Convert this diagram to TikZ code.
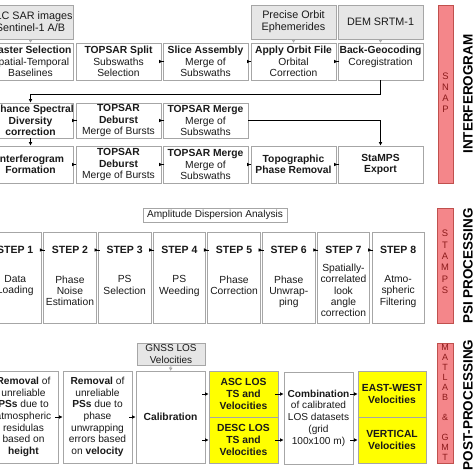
\documentclass[tikz,border=0pt]{standalone}
\usepackage{fontspec}
\setmainfont{Liberation Sans}
\usetikzlibrary{arrows.meta,calc}
\definecolor{bordergray}{HTML}{A6A6A6}
\definecolor{inputgray}{HTML}{E6E6E6}
\definecolor{barfill}{HTML}{F4868A}
\definecolor{barline}{HTML}{C0504D}
\definecolor{barletter}{HTML}{8B1A1A}
\definecolor{ink}{HTML}{1A1A1A}
\definecolor{hl}{HTML}{FFFF00}
\begin{document}
\begin{tikzpicture}[x=1pt,y=-1pt,
  every node/.style={text=ink},
  fbox/.style={draw=bordergray,line width=0.8pt,fill=white,inner sep=0pt,align=center,font=\fontsize{10.3}{11.6}\selectfont},
  ibox/.style={fbox,fill=inputgray,font=\fontsize{10.8}{12.2}\selectfont},
  ybox/.style={fbox,fill=hl},
  stepbox/.style={fbox,minimum width=52.5pt,minimum height=91pt},
  steptitle/.style={inner sep=0pt,font=\bfseries\fontsize{10.5}{11.2}\selectfont},
  stepdesc/.style={inner sep=0pt,anchor=north,align=center,font=\fontsize{10.3}{11.2}\selectfont},
  bar/.style={draw=barline,line width=0.8pt,fill=barfill,inner sep=0pt},
  barlet/.style={text=barletter,align=center,inner sep=0pt,font=\fontsize{9.4}{11}\selectfont},
  side/.style={rotate=90,inner sep=0pt,font=\bfseries\fontsize{13.5}{14}\selectfont,text=black},
  arr/.style={draw=black,line width=1pt,-{Latex[length=3.5pt,width=3.8pt]}},
  sarr/.style={arr,shorten <=-3pt},
  hol/.style={draw=bordergray,line width=0.7pt,-{Triangle[open,length=3pt,width=3.5pt]}},
]
\useasboundingbox (0,0) rectangle (474,474);
\clip (0,0) rectangle (474,474);

% ---------- INTERFEROGRAM ----------
\node[ibox,minimum width=85pt,minimum height=34pt] (slc) at (30.5,22) {SLC SAR images\\Sentinel-1 A/B};
\node[ibox,minimum width=85pt,minimum height=34pt] (orbit) at (293.5,22) {Precise Orbit\\Ephemerides};
\node[ibox,minimum width=85pt,minimum height=34pt] (dem) at (380.5,22) {DEM SRTM-1};

\node[fbox,minimum width=85pt,minimum height=37pt] (master) at (30.5,61.5) {\textbf{Master Selection}\\Spatial-Temporal\\Baselines};
\node[fbox,minimum width=85pt,minimum height=37pt] (split) at (118.5,61.5) {\textbf{TOPSAR Split}\\Subswaths\\Selection};
\node[fbox,minimum width=85pt,minimum height=37pt] (slice) at (205.5,61.5) {\textbf{Slice Assembly}\\Merge of\\Subswaths};
\node[fbox,minimum width=85pt,minimum height=37pt] (apply) at (293.5,61.5) {\textbf{Apply Orbit File}\\Orbital\\Correction};
\node[fbox,minimum width=85pt,minimum height=37pt] (geo) at (380.5,61.5) {\textbf{Back-Geocoding}\\Coregistration\\~};

\node[fbox,minimum width=85pt,minimum height=35pt] (esd) at (30.5,120.5) {\textbf{Enhance Spectral}\\\textbf{Diversity}\\\textbf{correction}};
\node[fbox,minimum width=85pt,minimum height=35pt] (deb1) at (118.5,120.5) {\textbf{TOPSAR}\\\textbf{Deburst}\\Merge of Bursts};
\node[fbox,minimum width=85pt,minimum height=35pt] (mrg1) at (205.5,120.5) {\textbf{TOPSAR Merge}\\Merge of\\Subswaths};

\node[fbox,minimum width=85pt,minimum height=37pt] (ifg) at (30.5,164.5) {\textbf{Interferogram}\\\textbf{Formation}};
\node[fbox,minimum width=85pt,minimum height=37pt] (deb2) at (118.5,164.5) {\textbf{TOPSAR}\\\textbf{Deburst}\\Merge of Bursts};
\node[fbox,minimum width=85pt,minimum height=37pt] (mrg2) at (205.5,164.5) {\textbf{TOPSAR Merge}\\Merge of\\Subswaths};
\node[fbox,minimum width=85pt,minimum height=37pt] (topo) at (293.5,164.5) {\textbf{Topographic}\\\textbf{Phase Removal}};
\node[fbox,minimum width=85pt,minimum height=37pt] (stamps) at (380.5,164.5) {\textbf{StaMPS}\\\textbf{Export}};

\node[bar,minimum width=15pt,minimum height=178pt] (snap) at (445.5,94) {};
\node[barlet] (snaptxt) at (445.5,93) {S\\N\\A\\P};
\node[side] (lint) at (468,94) {INTERFEROGRAM};

\draw[hol] (slc.south) -- (master.north);
\draw[hol] (orbit.south) -- (apply.north);
\draw[hol] (dem.south) -- (geo.north);
\draw[sarr] (split) -- (slice);
\draw[sarr] (slice) -- (apply);
\draw[sarr] (apply) -- (geo);
\draw[arr] (geo.south) -- ++(0,14) -| (esd.north);
\draw[sarr] (esd) -- (deb1);
\draw[sarr] (deb1) -- (mrg1);
\draw[arr] (mrg1.east) -| (stamps.north);
\draw[arr] (esd.south) -- (ifg.north);
\draw[sarr] (ifg) -- (deb2);
\draw[sarr] (deb2) -- (mrg2);
\draw[sarr] (mrg2) -- (topo);
\draw[sarr] (topo) -- (stamps);

% ---------- PSI PROCESSING ----------
\node[fbox,minimum width=144pt,minimum height=14pt,font=\fontsize{10.1}{11}\selectfont] (amp) at (215,215) {Amplitude Dispersion Analysis};

\node[stepbox] (s1) at (15.25,277.5) {};
\node[stepbox] (s2) at (69.95,277.5) {};
\node[stepbox] (s3) at (124.65,277.5) {};
\node[stepbox] (s4) at (179.35,277.5) {};
\node[stepbox] (s5) at (234.05,277.5) {};
\node[stepbox] (s6) at (288.75,277.5) {};
\node[stepbox] (s7) at (343.45,277.5) {};
\node[stepbox] (s8) at (398.15,277.5) {};

\node[steptitle] (t1) at (15.25,250) {STEP 1};
\node[steptitle] (t2) at (69.95,250) {STEP 2};
\node[steptitle] (t3) at (124.65,250) {STEP 3};
\node[steptitle] (t4) at (179.35,250) {STEP 4};
\node[steptitle] (t5) at (234.05,250) {STEP 5};
\node[steptitle] (t6) at (288.75,250) {STEP 6};
\node[steptitle] (t7) at (343.45,250) {STEP 7};
\node[steptitle] (t8) at (398.15,250) {STEP 8};

\node[stepdesc] (d1) at (15.25,275.5) {Data\\Loading};
\node[stepdesc] (d2) at (69.95,275.5) {Phase\\Noise\\Estimation};
\node[stepdesc] (d3) at (124.65,275.5) {PS\\Selection};
\node[stepdesc] (d4) at (179.35,275.5) {PS\\Weeding};
\node[stepdesc] (d5) at (234.05,275.5) {Phase\\Correction};
\node[stepdesc] (d6) at (288.75,275.5) {Phase\\Unwrap-\\ping};
\node[stepdesc] (d7) at (343.45,264) {Spatially-\\correlated\\look\\angle\\correction};
\node[stepdesc] (d8) at (398.15,275.5) {Atmo-\\spheric\\Filtering};

\draw[sarr] (s1.east |- t1) -- (s2.west |- t1);
\draw[sarr] (s2.east |- t1) -- (s3.west |- t1);
\draw[sarr] (s3.east |- t1) -- (s4.west |- t1);
\draw[sarr] (s4.east |- t1) -- (s5.west |- t1);
\draw[sarr] (s5.east |- t1) -- (s6.west |- t1);
\draw[sarr] (s6.east |- t1) -- (s7.west |- t1);
\draw[sarr] (s7.east |- t1) -- (s8.west |- t1);

\node[bar,minimum width=16pt,minimum height=115pt] (stampsbar) at (445,265.5) {};
\node[barlet,font=\fontsize{9.4}{11.4}\selectfont] (stampstxt) at (445,262) {S\\T\\A\\M\\P\\S};
\node[side] (lpsi) at (468,266) {PSI PROCESSING};

% ---------- POST-PROCESSING ----------
\node[ibox,minimum width=68pt,minimum height=22pt,font=\fontsize{10}{11.7}\selectfont] (gnss) at (171,354) {GNSS LOS\\Velocities};
\node[fbox,minimum width=69pt,minimum height=92pt,font=\fontsize{10.2}{11.67}\selectfont] (p1) at (23.5,417) {\textbf{Removal} of\\unreliable\\\textbf{PSs} due to\\atmospheric\\residulas\\based on\\\textbf{height}};
\node[fbox,minimum width=69pt,minimum height=92pt,font=\fontsize{10.2}{11.67}\selectfont] (p2) at (97.5,417) {\textbf{Removal} of\\unreliable\\\textbf{PSs} due to\\phase\\unwrapping\\errors based\\on \textbf{velocity}};
\node[fbox,minimum width=69pt,minimum height=92pt] (cal) at (170.5,417) {\textbf{Calibration}};
\node[ybox,minimum width=69pt,minimum height=46pt] (asc) at (243.5,394) {\textbf{ASC LOS}\\\textbf{TS and}\\\textbf{Velocities}};
\node[ybox,minimum width=69pt,minimum height=46pt] (desc) at (243.5,440) {\textbf{DESC LOS}\\\textbf{TS and}\\\textbf{Velocities}};
\node[fbox,minimum width=69pt,minimum height=92pt,font=\fontsize{10.1}{11.7}\selectfont] (comb) at (318.5,418) {\textbf{Combination}\\of calibrated\\LOS datasets\\(grid\\100x100 m)};
\node[ybox,minimum width=68pt,minimum height=46pt] (ew) at (392,394) {\textbf{EAST-WEST}\\\textbf{Velocities}};
\node[ybox,minimum width=68pt,minimum height=46pt] (vert) at (392,440) {\textbf{VERTICAL}\\\textbf{Velocities}};

\node[bar,minimum width=16pt,minimum height=120pt] (matbar) at (445,403) {};
\node[barlet,font=\fontsize{9}{10}\selectfont] (mattxt) at (445,402) {M\\A\\T\\L\\A\\B\\[10pt]\&\\[10pt]G\\M\\T};
\node[side] (lpost) at (468,405) {POST-PROCESSING};

\draw[hol] (gnss.south) -- (cal.north);
\draw[sarr] (p1) -- (p2);
\draw[sarr] (p2) -- (cal);
\draw[sarr] (cal.east |- asc) -- (asc.west);
\draw[sarr] (cal.east |- desc) -- (desc.west);
\draw[sarr] (asc.east) -- (comb.west |- asc);
\draw[sarr] (desc.east) -- (comb.west |- desc);
\draw[sarr] (comb.east |- ew) -- (ew.west);
\draw[sarr] (comb.east |- vert) -- (vert.west);
\end{tikzpicture}
\end{document}
